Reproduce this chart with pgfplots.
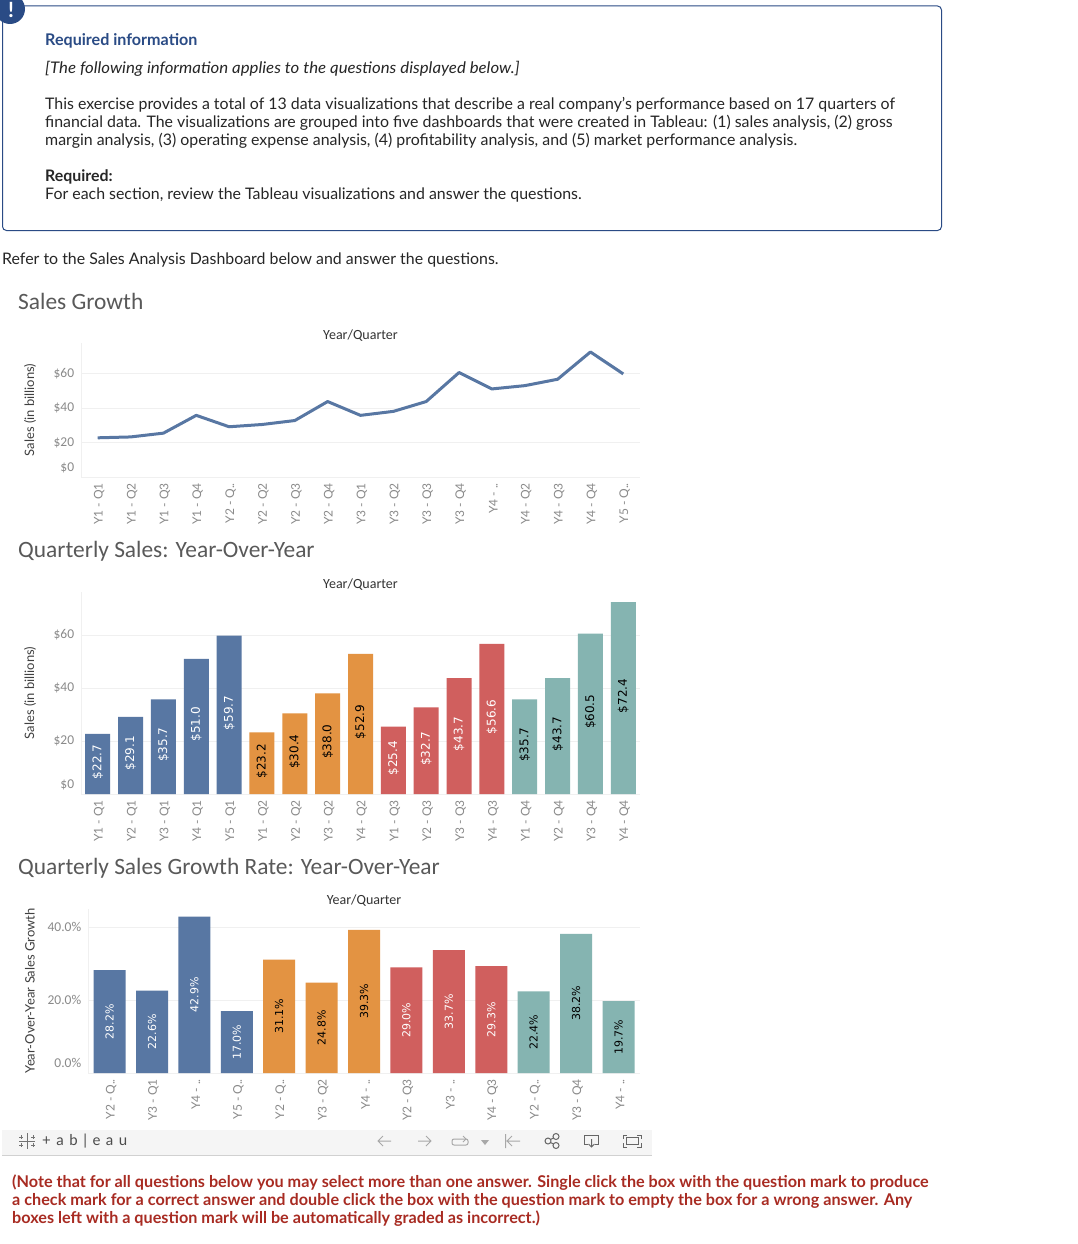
\documentclass[border=0pt]{standalone}
\usepackage{fontspec}
\usepackage{pgfplots}
\pgfplotsset{compat=1.18}
\setmainfont{Lato}
\newfontfamily\cond{Carlito}
\newfontfamily\wide{DejaVu Sans}

\definecolor{tblue}{HTML}{5877A3}
\definecolor{torange}{HTML}{E39342}
\definecolor{tred}{HTML}{D05F5E}
\definecolor{tteal}{HTML}{85B4B1}
\definecolor{boxblue}{HTML}{2A4B85}
\definecolor{noted}{HTML}{A82B22}
\definecolor{faint}{HTML}{F0F0F0}
\definecolor{tickgray}{HTML}{8A8A8A}
\definecolor{icongray}{HTML}{A8A8A8}

\pgfplotsset{
  dash/.style={
    scale only axis,
    anchor=south west,
    axis x line*=bottom, axis y line*=left,
    axis line style={faint,-},
    ymajorgrids, grid style={faint,line width=0.8pt},
    major tick length=0pt,
    minor tick length=4pt,
    tick align=outside,
    ytick style={draw=none}, xtick style={draw=none},
    minor x tick style={faint,line width=0.8pt},
    xticklabel style={yshift=-6pt,xshift=1.5pt,rotate=90,anchor=east,text=tickgray,font=\fontsize{12}{12}\selectfont,inner sep=0pt},
    yticklabel style={text=tickgray,font=\cond\fontsize{13.5}{13.5}\selectfont,anchor=east,xshift=-7pt,inner sep=0pt},
    extra y tick style={ymajorgrids=false},
    title={Year/Quarter},
    title style={font=\cond\fontsize{14}{14}\selectfont,text=black!80,inner sep=0pt,anchor=center},
    ylabel style={font=\fontsize{13}{13}\selectfont,text=black!75,anchor=center},
  },
  lab/.style 2 args={
    ybar, bar shift=0pt, draw=none, fill=#1,
    visualization depends on={y/2 \as \halfy},
    nodes near coords,
    nodes near coords style={shift={(axis direction cs:0,-\halfy)},anchor=center,rotate=90,text=#2,inner sep=0pt},
  },
  money/.style={
    lab={#1},
    nodes near coords={\$\pgfmathprintnumber[fixed,fixed zerofill,precision=1,assume math mode=true]{\pgfplotspointmeta}},
  },
  pct/.style={
    lab={#1},
    nodes near coords={\pgfmathprintnumber[fixed,fixed zerofill,precision=1,assume math mode=true]{\pgfplotspointmeta}\%},
  },
}

\begin{document}
\begin{tikzpicture}
\useasboundingbox (0,0) rectangle (1078pt,-1244pt);
\begin{scope}
\clip (0,0) rectangle (1078pt,-1244pt);
\fill[white] (0,0) rectangle (1078pt,-1244pt);

% info box
\draw[boxblue,line width=1pt,rounded corners=4pt] (2.5pt,-6pt) rectangle (941.5pt,-230.5pt);
\fill[boxblue] (10pt,-9pt) circle (15pt);
\node[text=white,font=\bfseries\fontsize{21}{21}\selectfont] at (11pt,-10pt) {!};

\tikzset{line/.style={anchor=base west,inner sep=0pt,font=\fontsize{15.9}{15.9}\selectfont,text=black!85}}
\node[line,text=boxblue,font=\bfseries\fontsize{16.1}{16.1}\selectfont] at (45pt,-45.5pt) {Required information};
\node[line,xscale=1.05,font=\itshape\fontsize{16}{16}\selectfont] at (45pt,-73.5pt) {[The following information applies to the questions displayed below.]};
\node[line] at (45pt,-109.5pt) {This exercise provides a total of 13 data visualizations that describe a real company’s performance based on 17 quarters of};
\node[line] at (45pt,-127.5pt) {financial data. The visualizations are grouped into five dashboards that were created in Tableau: (1) sales analysis, (2) gross};
\node[line] at (45pt,-145.5pt) {margin analysis, (3) operating expense analysis, (4) profitability analysis, and (5) market performance analysis.};
\node[line,font=\bfseries\fontsize{15.9}{15.9}\selectfont] at (45pt,-181.5pt) {Required:};
\node[line] at (45pt,-199.5pt) {For each section, review the Tableau visualizations and answer the questions.};
\node[line] at (2pt,-264.5pt) {Refer to the Sales Analysis Dashboard below and answer the questions.};

% dashboard titles
\tikzset{dtitle/.style={anchor=base west,inner sep=0pt,font=\cond\fontsize{23.4}{23.4}\selectfont,text=black!65}}
\node[dtitle] at (18pt,-309pt) {Sales Growth};
\node[dtitle] at (18pt,-557pt) {Quarterly Sales: Year-Over-Year};
\node[dtitle] at (18pt,-874pt) {Quarterly Sales Growth Rate: Year-Over-Year};

% sales growth line
\begin{axis}[dash,
  at={(81.3pt,-477pt)}, width=558.4pt, height=134pt,
  xmin=-0.5, xmax=16.5, ymin=0, ymax=77.6,
  xtick={0,...,16},
  ytick={20,40,60}, yticklabels={\$20,\$40,\$60},
  extra y ticks={5.4}, extra y tick labels={\$0},
  minor xtick={-0.5,0.5,...,16.5},
  xticklabels={Y1 - Q1,Y1 - Q2,Y1 - Q3,Y1 - Q4,Y2 - Q..,Y2 - Q2,Y2 - Q3,Y2 - Q4,Y3 - Q1,Y3 - Q2,Y3 - Q3,Y3 - Q4,Y4 - ..,Y4 - Q2,Y4 - Q3,Y4 - Q4,Y5 - Q..},
  title style={at={(0.5,1)},yshift=1pt},
  ylabel={Sales (in billions)},
  ylabel style={at={(axis description cs:-0.092,0.5)}},
]
\addplot[tblue,line width=3pt,mark=none,line join=round] coordinates {
  (0,22.7) (1,23.2) (2,25.4) (3,35.7) (4,29.1) (5,30.4) (6,32.7) (7,43.7) (8,35.7)
  (9,38.0) (10,43.7) (11,60.5) (12,51.0) (13,52.9) (14,56.6) (15,72.4) (16,59.7)};
\end{axis}

% quarterly sales
\begin{axis}[dash,
  at={(81.3pt,-794pt)}, width=558.4pt, height=202.3pt,
  xmin=-0.5, xmax=16.5, ymin=0, ymax=76.3,
  xtick={0,...,16},
  ytick={20,40,60}, yticklabels={\$20,\$40,\$60},
  extra y ticks={3.4}, extra y tick labels={\$0},
  minor xtick={-0.5,0.5,...,16.5},
  xticklabels={Y1 - Q1,Y2 - Q1,Y3 - Q1,Y4 - Q1,Y5 - Q1,Y1 - Q2,Y2 - Q2,Y3 - Q2,Y4 - Q2,Y1 - Q3,Y2 - Q3,Y3 - Q3,Y4 - Q3,Y1 - Q4,Y2 - Q4,Y3 - Q4,Y4 - Q4},
  title style={at={(0.5,1)},yshift=1.5pt},
  ylabel={Sales (in billions)},
  ylabel style={at={(axis description cs:-0.092,0.5)}},
  bar width=25pt,
  every node near coord/.append style={font=\wide\fontsize{12}{12}\selectfont,yshift=2pt},
]
\addplot[money={tblue}{white}] coordinates {(0,22.7) (1,29.1) (2,35.7) (3,51.0) (4,59.7)};
\addplot[money={torange}{black}] coordinates {(5,23.2) (6,30.4) (7,38.0) (8,52.9)};
\addplot[money={tred}{white}] coordinates {(9,25.4) (10,32.7) (11,43.7) (12,56.6)};
\addplot[money={tteal}{black}] coordinates {(13,35.7) (14,43.7) (15,60.5) (16,72.4)};
\end{axis}

% growth rate
\begin{axis}[dash,
  at={(88.4pt,-1073pt)}, width=551.3pt, height=164pt,
  xmin=-0.5, xmax=12.5, ymin=0, ymax=45,
  xtick={0,...,12},
  ytick={20,40}, yticklabels={20.0\%,40.0\%},
  extra y ticks={2.7}, extra y tick labels={0.0\%},
  minor xtick={-0.5,0.5,...,12.5},
  xticklabels={Y2 - Q..,Y3 - Q1,Y4 - ..,Y5 - Q..,Y2 - Q..,Y3 - Q2,Y4 - ..,Y2 - Q3,Y3 - ..,Y4 - Q3,Y2 - Q..,Y3 - Q4,Y4 - ..},
  title style={at={(0.5,1)},yshift=2pt},
  ylabel={Year-Over-Year Sales Growth},
  ylabel style={at={(axis description cs:-0.106,0.5)}},
  bar width=32pt,
  every node near coord/.append style={font=\wide\fontsize{11}{11}\selectfont},
]
\addplot[pct={tblue}{white}] coordinates {(0,28.2) (1,22.6) (2,42.9) (3,17.0)};
\addplot[pct={torange}{black}] coordinates {(4,31.1) (5,24.8) (6,39.3)};
\addplot[pct={tred}{white}] coordinates {(7,29.0) (8,33.7) (9,29.3)};
\addplot[pct={tteal}{black}] coordinates {(10,22.4) (11,38.2) (12,19.7)};
\end{axis}

% toolbar
\fill[black!4] (2pt,-1130pt) rectangle (652pt,-1155pt);
\draw[black!18,line width=0.8pt] (2pt,-1155.5pt) -- (652pt,-1155.5pt);
\node[anchor=west,inner sep=0pt,text=black!70,font=\fontsize{15}{15}\selectfont] at (42pt,-1141pt) {+\hspace{5.5pt}a\hspace{5.5pt}b\hspace{5.5pt}|\hspace{5.5pt}e\hspace{5.5pt}a\hspace{5.5pt}u};
\begin{scope}[black!55,line width=0.7pt]
\draw (27pt,-1133pt) -- (27pt,-1149pt) (19pt,-1141pt) -- (35pt,-1141pt);
\draw (21pt,-1135pt) -- (21pt,-1139pt) (19pt,-1137pt) -- (23pt,-1137pt);
\draw (33pt,-1135pt) -- (33pt,-1139pt) (31pt,-1137pt) -- (35pt,-1137pt);
\draw (21pt,-1143pt) -- (21pt,-1147pt) (19pt,-1145pt) -- (23pt,-1145pt);
\draw (33pt,-1143pt) -- (33pt,-1147pt) (31pt,-1145pt) -- (35pt,-1145pt);
\end{scope}
\begin{scope}[icongray,line width=1pt]
\draw (378pt,-1141pt) -- (391pt,-1141pt) (383pt,-1136pt) -- (378pt,-1141pt) -- (383pt,-1146pt);
\draw (418pt,-1141pt) -- (431pt,-1141pt) (426pt,-1136pt) -- (431pt,-1141pt) -- (426pt,-1146pt);
\draw[rounded corners=2pt] (452pt,-1139pt) rectangle (468pt,-1145pt);
\draw (463pt,-1136pt) -- (466pt,-1139pt) -- (463pt,-1142pt);
\fill (481pt,-1140pt) -- (489pt,-1140pt) -- (485pt,-1145pt) -- cycle;
\draw (505.5pt,-1134pt) -- (505.5pt,-1148pt) (507pt,-1141pt) -- (520pt,-1141pt) (512pt,-1136pt) -- (507pt,-1141pt) -- (512pt,-1146pt);
\end{scope}
\begin{scope}[black!60,line width=1pt]
\draw (548pt,-1141pt) circle (3pt) (556pt,-1136.5pt) circle (3pt) (556pt,-1145.5pt) circle (3pt);
\draw (550.5pt,-1139.5pt) -- (553.5pt,-1138pt) (550.5pt,-1142.5pt) -- (553.5pt,-1144pt);
\draw (595pt,-1144pt) -- (598.5pt,-1144pt) -- (598.5pt,-1135pt) -- (584.5pt,-1135pt) -- (584.5pt,-1144pt) -- (588pt,-1144pt);
\draw (591.5pt,-1139pt) -- (591.5pt,-1147pt) (588.5pt,-1144pt) -- (591.5pt,-1147pt) -- (594.5pt,-1144pt);
\draw (623pt,-1139pt) -- (623pt,-1135pt) -- (627pt,-1135pt) (637pt,-1135pt) -- (641pt,-1135pt) -- (641pt,-1139pt)
      (641pt,-1143pt) -- (641pt,-1147pt) -- (637pt,-1147pt) (627pt,-1147pt) -- (623pt,-1147pt) -- (623pt,-1143pt);
\draw (626pt,-1137.5pt) rectangle (638pt,-1144.5pt);
\end{scope}

% note
\tikzset{note/.style={anchor=base west,inner sep=0pt,text=noted,font=\bfseries\fontsize{16.2}{16.2}\selectfont}}
\node[note] at (12pt,-1187.5pt) {(Note that for all questions below you may select more than one answer. Single click the box with the question mark to produce};
\node[note] at (12pt,-1205.5pt) {a check mark for a correct answer and double click the box with the question mark to empty the box for a wrong answer. Any};
\node[note] at (12pt,-1223.5pt) {boxes left with a question mark will be automatically graded as incorrect.)};
\end{scope}
\end{tikzpicture}
\end{document}
